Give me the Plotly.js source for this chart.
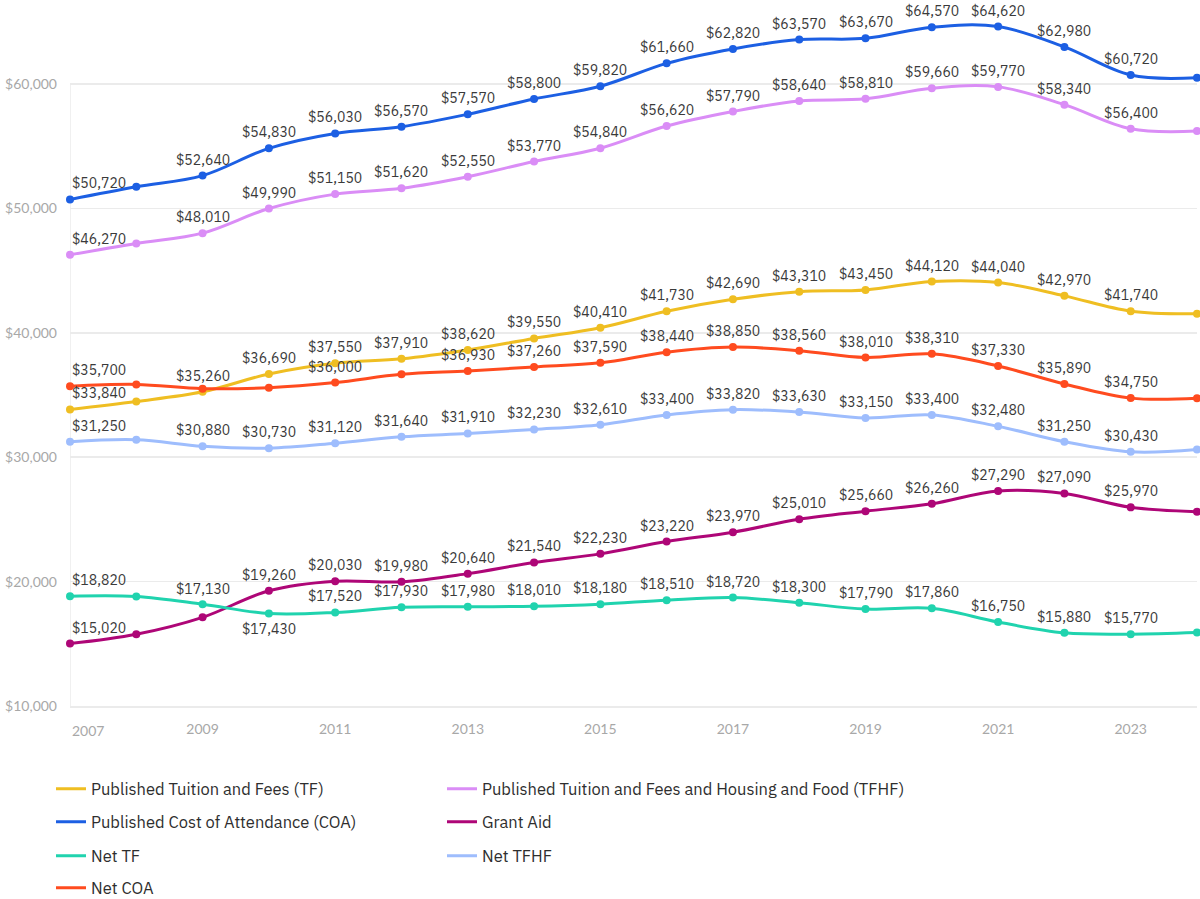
<!DOCTYPE html>
<html><head><meta charset="utf-8">
<script src="https://cdn.plot.ly/plotly-3.0.1.min.js"></script>
<style>html,body{margin:0;padding:0;background:#fff;}#chart{width:1200px;height:899px;}</style>
</head><body><div id="chart"></div>
<script>
const years = [2007,2008,2009,2010,2011,2012,2013,2014,2015,2016,2017,2018,2019,2020,2021,2022,2023,2024];
const tuitionFees = [33840,34480,35260,36690,37550,37910,38620,39550,40410,41730,42690,43310,43450,44120,44040,42970,41740,41540];
const tuitionHousing = [46270,47180,48010,49990,51150,51620,52550,53770,54840,56620,57790,58640,58810,59660,59770,58340,56400,56220];
const costAttendance = [50720,51740,52640,54830,56030,56570,57570,58800,59820,61660,62820,63570,63670,64570,64620,62980,60720,60510];
const grantAid = [15020,15770,17130,19260,20030,19980,20640,21540,22230,23220,23970,25010,25660,26260,27290,27090,25970,25620];
const netTF = [18820,18800,18180,17430,17520,17930,17980,18010,18180,18510,18720,18300,17790,17860,16750,15880,15770,15900];
const netTFHF = [31250,31400,30880,30730,31120,31640,31910,32230,32610,33400,33820,33630,33150,33400,32480,31250,30430,30610];
const netCOA = [35700,35850,35510,35590,36000,36660,36930,37260,37590,38440,38850,38560,38010,38310,37330,35890,34750,34740];
const seriesNames = ["Published Tuition and Fees (TF)","Published Tuition and Fees and Housing and Food (TFHF)","Published Cost of Attendance (COA)","Grant Aid","Net TF","Net TFHF","Net COA"];
const xTicks = [2007,2009,2011,2013,2015,2017,2019,2021,2023];
const yTicks = [10000,20000,30000,40000,50000,60000];

const series = [
  {name: seriesNames[0], y: tuitionFees, color: "#EFBE22", hide: [], row: 0, col: 0},
  {name: seriesNames[1], y: tuitionHousing, color: "#DA8DF6", hide: [], row: 0, col: 1},
  {name: seriesNames[2], y: costAttendance, color: "#1C5FE3", hide: [], row: 1, col: 0},
  {name: seriesNames[3], y: grantAid, color: "#AE0677", hide: [], row: 1, col: 1, shift: {2: 28}},
  {name: seriesNames[4], y: netTF, color: "#20D3AE", hide: [2], row: 2, col: 0, shift: {3: -15}},
  {name: seriesNames[5], y: netTFHF, color: "#9EBDFD", hide: [], row: 2, col: 1},
  {name: seriesNames[6], y: netCOA, color: "#FF4B1F", hide: [2,3,5], row: 3, col: 0}
];

const T = 10, B = 193, L = 70, R = 3, W = 1200, H = 899;
const pw = W - L - R, ph = H - T - B;
const rowY = [789, 822, 856, 888];
const colX = [51, 442];
const tickFont = {family: "Lato, 'Noto Sans', sans-serif", size: 14, color: "#a8a8a8"};
const labelFont = {family: "'IBM Plex Sans', 'Noto Sans', sans-serif", size: 14, color: "#3a3a3a"};

const traces = [];
const annotations = [];
const layout = {
  width: W, height: H,
  margin: {l: L, r: R, t: T, b: B, autoexpand: false},
  paper_bgcolor: "#fff", plot_bgcolor: "#fff",
  showlegend: true,
  xaxis: {
    range: [2007, 2024], tickvals: xTicks.slice(1), ticktext: xTicks.slice(1).map(String),
    showgrid: false, zeroline: false,
    showline: true, linecolor: "#ebebeb", linewidth: 1.5, ticks: "",
    ticklabelstandoff: 10, tickfont: tickFont
  },
  yaxis: {
    range: [10000, 65950], tickvals: yTicks, ticktext: yTicks.map(v => "$" + v.toLocaleString("en-US")),
    showgrid: true, gridcolor: "#ebebeb", gridwidth: 1.5, zeroline: false, showline: false, ticks: "",
    ticklabelstandoff: 12, tickfont: tickFont
  },
  shapes: [{type: "line", xref: "x", yref: "y", x0: years[0], x1: years[0], y0: yTicks[0], y1: yTicks[yTicks.length-1], line: {color: "#ebebeb", width: 1.5}, layer: "below"}],
  annotations: annotations
};

// first year tick label, kept inside the plot's left edge
annotations.push({
  x: xTicks[0], y: 0, xref: "x", yref: "paper", showarrow: false, text: String(xTicks[0]),
  xanchor: "left", yanchor: "middle", xshift: 0, yshift: -24, font: tickFont
});

series.forEach((s, k) => {
  const legId = k === 0 ? "legend" : "legend" + (k + 1);
  traces.push({
    type: "scatter", mode: "lines", x: years, y: s.y, name: s.name,
    line: {color: s.color, width: 3, shape: "spline", smoothing: 1},
    legend: legId, hoverinfo: "skip"
  });
  traces.push({
    type: "scatter", mode: "markers", x: years, y: s.y, name: s.name, showlegend: false,
    marker: {color: s.color, size: 8}, cliponaxis: false, legend: legId
  });
  layout[legId] = {
    x: (colX[s.col] - L) / pw, xanchor: "left",
    y: (H - B - rowY[s.row]) / ph, yanchor: "middle",
    bgcolor: "rgba(0,0,0,0)", borderwidth: 0,
    font: {family: "'IBM Plex Sans', 'Noto Sans', sans-serif", size: 16.5, color: "#2e2e2e"}
  };
  s.y.forEach((v, i) => {
    if (i === 1 || i === years.length - 1) return;
    if (s.hide.indexOf(i) >= 0) return;
    const sh = (s.shift && s.shift[i] !== undefined) ? s.shift[i] : 16;
    annotations.push({
      x: years[i], y: v, xref: "x", yref: "y", showarrow: false,
      text: "$" + v.toLocaleString("en-US"), yshift: sh,
      xanchor: i === 0 ? "left" : "center", yanchor: "middle",
      font: labelFont
    });
  });
});

Plotly.newPlot("chart", traces, layout, {displayModeBar: false, staticPlot: true});
</script></body></html>
